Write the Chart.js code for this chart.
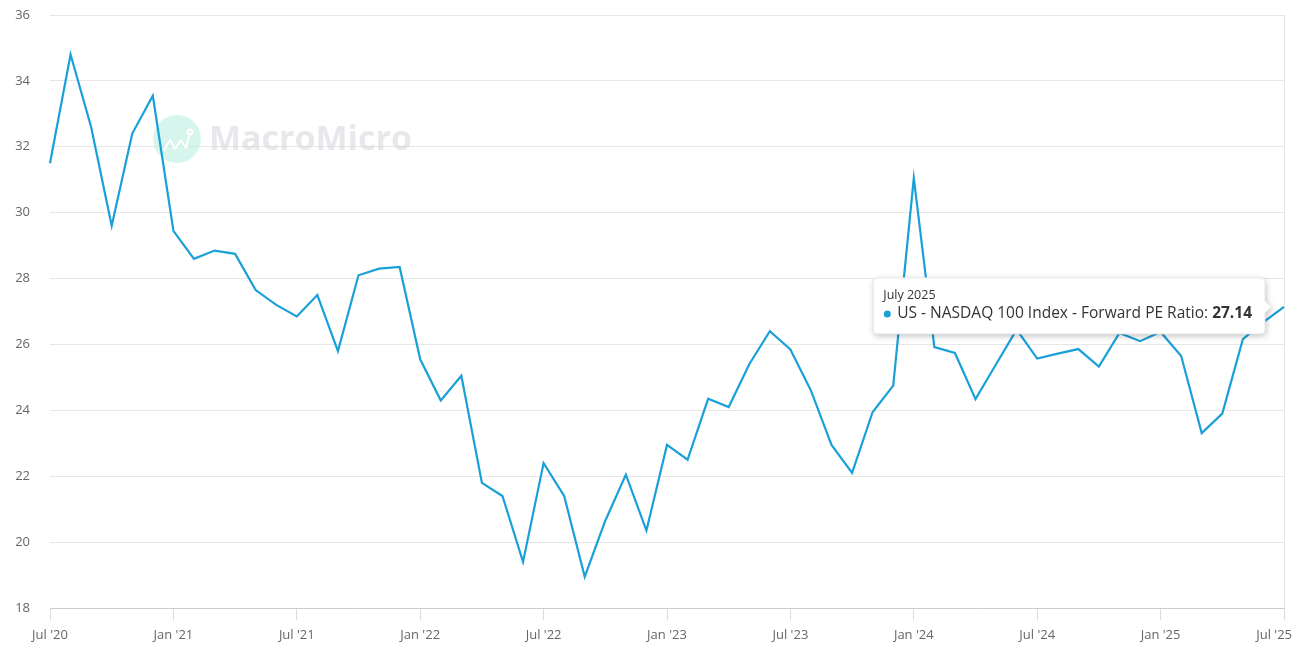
<!DOCTYPE html>
<html>
<head>
<meta charset="utf-8">
<script src="https://cdn.jsdelivr.net/npm/chart.js@4.4.1/dist/chart.umd.min.js"></script>
<style>
  html, body { margin: 0; padding: 0; background: #fff; }
  #wrap { width: 1297px; height: 653px; position: relative; }
</style>
</head>
<body>
<div id="wrap"><canvas id="c1"></canvas></div>
<script>
const seriesName = "US - NASDAQ 100 Index - Forward PE Ratio";
const startYear = 2020;
const startMonth = 6; // July (0-based)
const monthNames = ["January","February","March","April","May","June","July","August","September","October","November","December"];
const xTickLabels = ["Jul '20", "Jan '21", "Jul '21", "Jan '22", "Jul '22", "Jan '23", "Jul '23", "Jan '24", "Jul '24", "Jan '25", "Jul '25"];
const yTicks = [18, 20, 22, 24, 26, 28, 30, 32, 34, 36];

// monthly, Jul 2020 .. Jul 2025
const pe2020 = [31.5, 34.8, 32.6, 29.6, 32.4, 33.55];
const pe2021 = [29.45, 28.6, 28.85, 28.75, 27.65, 27.2, 26.85, 27.5, 25.8, 28.1, 28.3, 28.35];
const pe2022 = [25.55, 24.3, 25.05, 21.8, 21.4, 19.4, 22.4, 21.4, 18.95, 20.65, 22.05, 20.35];
const pe2023 = [22.95, 22.5, 24.35, 24.1, 25.4, 26.4, 25.85, 24.6, 22.95, 22.1, 23.95, 24.75];
const pe2024 = [31.05, 25.92, 25.74, 24.34, 25.4, 26.45, 25.57, 25.72, 25.86, 25.33, 26.35, 26.1];
const pe2025 = [26.38, 25.65, 23.31, 23.9, 26.16, 26.68, 27.14];

const values = [...pe2020, ...pe2021, ...pe2022, ...pe2023, ...pe2024, ...pe2025];

const labels = values.map((v, i) => {
    const m = (startMonth + i) % 12;
    const y = startYear + Math.floor((startMonth + i) / 12);
    return monthNames[m] + " " + y;
});

const lineColor = '#1aa0d8';
const FONT = "'Open Sans', 'Noto Sans', sans-serif";
const tickFont = { family: FONT, size: 13 };

// watermark + right border
const decor = {
    id: 'decor',
    beforeDatasetsDraw(chart) {
        const c = chart.ctx;
        const a = chart.chartArea;
        c.save();
        c.fillStyle = 'rgba(180,238,222,0.55)';
        c.beginPath();
        c.arc(177, 139, 24, 0, Math.PI * 2);
        c.fill();
        c.strokeStyle = '#fff';
        c.lineWidth = 2;
        c.lineJoin = 'round';
        c.beginPath();
        c.moveTo(164, 150); c.lineTo(170, 140); c.lineTo(175, 149); c.lineTo(181, 140); c.lineTo(186, 148); c.lineTo(190, 133);
        c.stroke();
        c.beginPath();
        c.arc(190, 132, 2.5, 0, Math.PI * 2);
        c.stroke();
        c.fillStyle = 'rgba(215,217,222,0.6)';
        c.font = "bold 34px " + FONT;
        c.textBaseline = 'middle';
        c.fillText("MacroMicro", 209, 140);
        c.strokeStyle = '#e4e4e4';
        c.lineWidth = 1;
        c.beginPath();
        c.moveTo(a.right + 0.5, a.top);
        c.lineTo(a.right + 0.5, a.bottom);
        c.stroke();
        c.restore();
    }
};

// last x label is pulled inside the canvas, like the original
const lastLabel = {
    id: 'lastLabel',
    afterDraw(chart) {
        const c = chart.ctx;
        const a = chart.chartArea;
        c.save();
        c.font = tickFont.size + "px " + FONT;
        c.fillStyle = '#666';
        c.textAlign = 'right';
        c.textBaseline = 'middle';
        c.fillText(xTickLabels[xTickLabels.length - 1], chart.width - 5, a.bottom + 27);
        c.restore();
    }
};

// static tooltip on last point
const tipBox = {
    id: 'tipBox',
    afterDraw(chart) {
        const c = chart.ctx;
        const meta = chart.getDatasetMeta(0);
        const idx = values.length - 1;
        const pt = meta.data[idx];
        const tipX = pt.x - 13;
        const tipY = pt.y;
        const body = seriesName + ": ";
        const val = values[idx].toFixed(2);
        c.save();
        c.font = "15.5px " + FONT;
        const bw = c.measureText(body).width;
        c.font = "bold 15.5px " + FONT;
        const vw = c.measureText(val).width;
        const w = 24 + bw + vw + 13;
        const h = 56;
        const right = tipX - 6;
        const left = right - w;
        const top = tipY - 29;
        c.shadowColor = 'rgba(0,0,0,0.25)';
        c.shadowBlur = 6;
        c.shadowOffsetX = 1;
        c.shadowOffsetY = 2;
        c.fillStyle = '#fff';
        c.beginPath();
        const r = 4;
        c.moveTo(left + r, top);
        c.lineTo(right - r, top);
        c.quadraticCurveTo(right, top, right, top + r);
        c.lineTo(right, tipY - 6);
        c.lineTo(tipX, tipY);
        c.lineTo(right, tipY + 6);
        c.lineTo(right, top + h - r);
        c.quadraticCurveTo(right, top + h, right - r, top + h);
        c.lineTo(left + r, top + h);
        c.quadraticCurveTo(left, top + h, left, top + h - r);
        c.lineTo(left, top + r);
        c.quadraticCurveTo(left, top, left + r, top);
        c.closePath();
        c.fill();
        c.shadowColor = 'transparent';
        c.strokeStyle = '#e8e8e8';
        c.lineWidth = 1;
        c.stroke();
        c.fillStyle = '#333';
        c.textBaseline = 'middle';
        c.font = "12.5px " + FONT;
        c.fillText(labels[idx], left + 10, top + 18);
        c.fillStyle = lineColor;
        c.beginPath();
        c.arc(left + 14, top + 36, 3.5, 0, Math.PI * 2);
        c.fill();
        c.fillStyle = '#333';
        c.font = "15.5px " + FONT;
        c.fillText(body, left + 24, top + 36);
        c.font = "bold 15.5px " + FONT;
        c.fillText(val, left + 24 + bw, top + 36);
        c.restore();
    }
};

const tickAt = {};
xTickLabels.forEach((t, k) => { tickAt[k * 6] = t; });

new Chart(document.getElementById('c1'), {
    type: 'line',
    data: {
        labels: labels,
        datasets: [{
            label: seriesName,
            data: values,
            borderColor: lineColor,
            borderWidth: 2.2,
            pointRadius: 0,
            tension: 0,
            fill: false
        }]
    },
    options: {
        responsive: true,
        maintainAspectRatio: false,
        animation: false,
        events: [],
        layout: { padding: { top: 15, right: 13, left: 0, bottom: 0 } },
        plugins: {
            legend: { display: false },
            tooltip: { enabled: false }
        },
        scales: {
            x: {
                afterFit(s) {
                    s.height = 45;
                    s.paddingLeft = 0;
                    s.paddingRight = 0;
                },
                grid: {
                    drawOnChartArea: false,
                    drawTicks: true,
                    tickLength: 12,
                    color: '#dcdcdc'
                },
                border: { color: '#cccccc' },
                ticks: {
                    autoSkip: false,
                    maxRotation: 0,
                    padding: 7,
                    color: '#666',
                    font: tickFont,
                    callback(v, i) {
                        if (i === values.length - 1) return ''; // drawn by lastLabel
                        return tickAt[i] !== undefined ? tickAt[i] : null;
                    }
                }
            },
            y: {
                min: yTicks[0],
                max: yTicks[yTicks.length - 1],
                afterFit(s) {
                    s.width = 50;
                    s.paddingTop = 0;
                    s.paddingBottom = 0;
                },
                afterBuildTicks(s) { s.ticks = yTicks.map(v => ({ value: v })); },
                grid: { color: '#e6e6e6', drawTicks: false },
                border: { display: false },
                ticks: {
                    padding: 20,
                    color: '#666',
                    font: tickFont
                }
            }
        }
    },
    plugins: [decor, lastLabel, tipBox]
});
</script>
</body>
</html>
